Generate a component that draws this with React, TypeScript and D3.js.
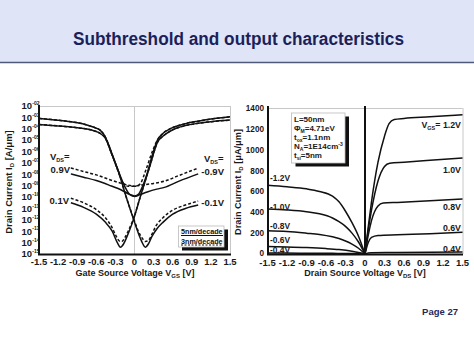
import React from 'react';
import * as d3 from 'd3';

const W = 474;
const H = 355;

const TITLE = 'Subthreshold and output characteristics';
const PAGE = 'Page 27';

const X_TICKS = [-1.5, -1.2, -0.9, -0.6, -0.3, 0, 0.3, 0.6, 0.9, 1.2, 1.5];
const LOG_EXPONENTS = [-2, -3, -4, -5, -6, -7, -8, -9, -10, -11, -12, -13, -14, -15];
const I_TICKS = [0, 200, 400, 600, 800, 1000, 1200, 1400];

// Left chart: [V_GS (V), log10(I_D [A/um])]
const N09_3NM: [number, number][] = [
  [-1.0, -7.45], [-0.8, -7.75], [-0.6, -8.05], [-0.4, -8.45], [-0.2, -8.8], [-0.05, -9.0],
  [0.03, -9.05], [0.1, -8.75], [0.18, -7.6], [0.28, -6.0], [0.36, -5.0], [0.45, -4.4],
  [0.58, -3.95], [0.8, -3.55], [1.0, -3.33], [1.2, -3.15], [1.5, -2.95],
];
const N09_5NM: [number, number][] = [
  [-1.0, -7.96], [-0.8, -8.25], [-0.6, -8.55], [-0.4, -8.95], [-0.2, -9.4], [-0.08, -9.75],
  [0.0, -9.9], [0.07, -9.7], [0.13, -9.0], [0.2, -7.9], [0.28, -6.3], [0.36, -5.0],
  [0.45, -4.4], [0.58, -3.95], [0.8, -3.55], [1.0, -3.33], [1.2, -3.15], [1.5, -2.95],
];
const N01_3NM: [number, number][] = [
  [-1.0, -10.1], [-0.8, -10.5], [-0.6, -11.1], [-0.46, -11.8], [-0.36, -12.6], [-0.29, -13.4],
  [-0.24, -13.85], [-0.2, -13.9], [-0.15, -13.55], [-0.1, -13.0], [-0.03, -12.1], [0.09, -10.0],
  [0.24, -7.3], [0.36, -5.2], [0.47, -4.55], [0.58, -4.15], [0.8, -3.72], [1.0, -3.52],
  [1.2, -3.38], [1.5, -3.24],
];
const N01_5NM: [number, number][] = [
  [-1.0, -10.5], [-0.8, -10.9], [-0.6, -11.5], [-0.46, -12.2], [-0.35, -13.0], [-0.27, -14.0],
  [-0.22, -14.4], [-0.17, -14.1], [-0.12, -13.5], [-0.03, -12.2], [0.09, -10.0], [0.24, -7.3],
  [0.36, -5.2], [0.47, -4.55], [0.58, -4.15], [0.8, -3.72], [1.0, -3.52], [1.2, -3.38],
  [1.5, -3.24],
];
const P09_3NM: [number, number][] = [
  [-1.5, -3.09], [-1.2, -3.25], [-1.0, -3.38], [-0.8, -3.58], [-0.65, -3.85], [-0.54, -4.12],
  [-0.46, -4.7], [-0.38, -5.8], [-0.28, -7.4], [-0.18, -8.75], [-0.1, -9.05], [-0.02, -9.05],
  [0.1, -8.95], [0.3, -8.8], [0.47, -8.6], [0.7, -8.1], [1.0, -7.45],
];
const P09_5NM: [number, number][] = [
  [-1.5, -3.09], [-1.2, -3.25], [-1.0, -3.38], [-0.8, -3.58], [-0.65, -3.85], [-0.54, -4.12],
  [-0.46, -4.7], [-0.38, -5.8], [-0.3, -7.0], [-0.22, -8.2], [-0.15, -9.1], [-0.08, -9.75],
  [0.0, -9.95], [0.08, -9.8], [0.2, -9.55], [0.35, -9.3], [0.47, -9.15], [0.7, -8.6], [1.0, -7.96],
];
const P01_3NM: [number, number][] = [
  [-1.5, -3.62], [-1.2, -3.75], [-1.0, -3.85], [-0.8, -3.98], [-0.65, -4.15], [-0.54, -4.4],
  [-0.45, -4.9], [-0.36, -6.2], [-0.25, -7.8], [-0.13, -10.0], [0.0, -12.1], [0.06, -13.0],
  [0.12, -13.6], [0.17, -13.9], [0.22, -13.8], [0.27, -13.3], [0.33, -12.6], [0.45, -11.8],
  [0.6, -11.15], [0.8, -10.7], [1.0, -10.35],
];
const P01_5NM: [number, number][] = [
  [-1.5, -3.62], [-1.2, -3.75], [-1.0, -3.85], [-0.8, -3.98], [-0.65, -4.15], [-0.54, -4.4],
  [-0.45, -4.9], [-0.36, -6.2], [-0.25, -7.8], [-0.13, -10.0], [0.0, -12.2], [0.09, -13.6],
  [0.13, -14.1], [0.17, -14.4], [0.22, -14.1], [0.27, -13.5], [0.35, -12.8], [0.45, -12.2],
  [0.6, -11.5], [0.8, -11.0], [1.0, -10.7],
];

const LEFT_SERIES = [
  { data: N09_5NM, dashed: false },
  { data: N01_5NM, dashed: false },
  { data: P09_5NM, dashed: false },
  { data: P01_5NM, dashed: false },
  { data: N09_3NM, dashed: true },
  { data: N01_3NM, dashed: true },
  { data: P09_3NM, dashed: true },
  { data: P01_3NM, dashed: true },
];

// Right chart: [V_DS (V), |I_D| (uA/um)]
const VGS_N = ['1.2V', '1.0V', '0.8V', '0.6V', '0.4V'];
const VGS_P = ['-1.2V', '-1.0V', '-0.8V', '-0.6V', '-0.4V'];
const N_LABEL_I = [1240, 805, 453, 252, 48];
const P_LABEL_I = [726, 453, 268, 137, 43];

const ID_N12: [number, number][] = [
  [0, 0], [0.05, 260], [0.1, 500], [0.2, 880], [0.3, 1130], [0.37, 1250], [0.45, 1290],
  [0.6, 1300], [1.0, 1315], [1.5, 1335],
];
const ID_N10: [number, number][] = [
  [0, 0], [0.05, 230], [0.1, 420], [0.2, 700], [0.3, 840], [0.38, 870], [0.6, 880],
  [1.0, 898], [1.5, 920],
];
const ID_N08: [number, number][] = [
  [0, 0], [0.05, 180], [0.1, 320], [0.2, 460], [0.28, 488], [0.5, 495], [1.0, 510], [1.5, 528],
];
const ID_N06: [number, number][] = [
  [0, 0], [0.05, 110], [0.1, 160], [0.2, 178], [0.5, 185], [1.0, 195], [1.5, 208],
];
const ID_N04: [number, number][] = [[0, 0], [0.05, 10], [0.1, 13], [0.5, 15], [1.5, 20]];

const ID_P12: [number, number][] = [
  [-1.5, 660], [-1.2, 645], [-0.9, 625], [-0.7, 600], [-0.5, 555], [-0.4, 500], [-0.3, 410],
  [-0.2, 300], [-0.1, 170], [0, 0],
];
const ID_P10: [number, number][] = [
  [-1.5, 432], [-1.2, 422], [-0.9, 405], [-0.7, 385], [-0.5, 345], [-0.4, 310], [-0.3, 265],
  [-0.2, 200], [-0.1, 115], [0, 0],
];
const ID_P08: [number, number][] = [
  [-1.5, 222], [-1.2, 215], [-0.9, 200], [-0.7, 188], [-0.5, 165], [-0.4, 148], [-0.3, 125],
  [-0.2, 95], [-0.1, 55], [0, 0],
];
const ID_P06: [number, number][] = [
  [-1.5, 72], [-1.2, 68], [-0.9, 62], [-0.6, 52], [-0.4, 42], [-0.2, 26], [-0.1, 15], [0, 0],
];
const ID_P04: [number, number][] = [[-1.5, 9], [-1.0, 8], [-0.5, 6], [-0.2, 4], [0, 0]];

const N_CURVES = [ID_N12, ID_N10, ID_N08, ID_N06, ID_N04];
const P_CURVES = [ID_P12, ID_P10, ID_P08, ID_P06, ID_P04];

const INFO_LINES = [
  { main: 'L=50nm', sub: '', rest: '', sup: '' },
  { main: 'Φ', sub: 'M', rest: '=4.71eV', sup: '' },
  { main: 't', sub: 'ox', rest: '=1.1nm', sup: '' },
  { main: 'N', sub: 'A', rest: '=1E14cm', sup: '-3' },
  { main: 't', sub: 'si', rest: '=5nm', sup: '' },
];

const FONT = '"Liberation Sans", Arial, Helvetica, sans-serif';
const TXT = '#1a1a1a';

const fmtX = (v: number) => (v === 0 ? '0' : v.toFixed(1));
const pad2 = (n: number) => (Math.abs(n) < 10 ? '-0' + Math.abs(n) : String(n));

export default function App() {
  const xL = d3.scaleLinear().domain([-1.5, 1.5]).range([39, 230]);
  const yL = d3.scaleLog().domain([1e-15, 1e-2]).range([254, 106]);
  const lineL = d3
    .line<[number, number]>()
    .x((d) => xL(d[0]))
    .y((d) => yL(Math.pow(10, d[1])))
    .curve(d3.curveMonotoneX);

  const xR = d3.scaleLinear().domain([-1.5, 1.5]).range([267.5, 462.5]);
  const yR = d3.scaleLinear().domain([0, 1400]).range([254, 108]);
  const lineR = d3
    .line<[number, number]>()
    .x((d) => xR(d[0]))
    .y((d) => yR(d[1]))
    .curve(d3.curveMonotoneX);

  return (
    <svg
      width={W}
      height={H}
      viewBox={`0 0 ${W} ${H}`}
      style={{ position: 'absolute', left: 0, top: 0, background: '#fff' }}
      fontFamily={FONT}
    >
      <rect x={0} y={0} width={W} height={H} fill="#fff" />
      <rect x={0} y={0} width={W} height={62} fill="#dfe5f7" />
      <line x1={0} x2={W} y1={62.5} y2={62.5} stroke="#4e5a78" strokeWidth={1.5} />
      <text
        x={238.5}
        y={45}
        textAnchor="middle"
        fontFamily='"Liberation Sans Narrow", "Liberation Sans", Arial, sans-serif'
        fontWeight="bold"
        fontSize={18}
        fill="#1b1f5a"
        textLength={331}
        lengthAdjust="spacingAndGlyphs"
      >
        {TITLE}
      </text>
      <text x={458} y={315} textAnchor="end" fontWeight="bold" fontSize={9.5} fill="#1f2a5c">
        {PAGE}
      </text>

      {/* ===== LEFT CHART ===== */}
      <g>
        <line x1={xL(-1.5)} x2={xL(1.5)} y1={106.5} y2={106.5} stroke="#c8c8c8" strokeWidth={1} />
        <line x1={230.5} x2={230.5} y1={106} y2={254} stroke="#c8c8c8" strokeWidth={1} />
        <line x1={xL(0)} x2={xL(0)} y1={106} y2={254} stroke="#c8c8c8" strokeWidth={1} />
        {LEFT_SERIES.map((s, i) => (
          <path
            key={i}
            d={lineL(s.data) || ''}
            fill="none"
            stroke="#111"
            strokeWidth={1.5}
            strokeDasharray={s.dashed ? '3,2' : undefined}
          />
        ))}
        <line x1={39} x2={39} y1={105} y2={255} stroke="#111" strokeWidth={2} />
        <line x1={38} x2={231} y1={254.5} y2={254.5} stroke="#111" strokeWidth={2} />
        {LOG_EXPONENTS.map((e) => (
          <g key={e}>
            <text x={32} y={yL(Math.pow(10, e)) + 3.3} textAnchor="end" fontSize={9.5} fontWeight="bold" fill={TXT}>
              10
            </text>
            <text x={32.3} y={yL(Math.pow(10, e)) - 0.8} fontSize={5} fontWeight="bold" fill={TXT}>
              {pad2(e)}
            </text>
          </g>
        ))}
        {X_TICKS.map((t) => (
          <text key={t} x={xL(t)} y={265} textAnchor="middle" fontSize={9.5} fontWeight="bold" fill={TXT}>
            {fmtX(t)}
          </text>
        ))}
        <text x={135} y={276} textAnchor="middle" fontSize={9} fontWeight="bold" fill={TXT}>
          <tspan>Gate Source Voltage V</tspan>
          <tspan fontSize={6} dy={2}>GS</tspan>
          <tspan dy={-2}> [V]</tspan>
        </text>
        <text
          transform={`translate(12,182) rotate(-90)`}
          textAnchor="middle"
          fontSize={9.5}
          fontWeight="bold"
          fill={TXT}
        >
          <tspan>Drain Current I</tspan>
          <tspan fontSize={6} dy={2}>D</tspan>
          <tspan dy={-2}> [A/μm]</tspan>
        </text>
        <text x={50} y={160} fontSize={9.5} fontWeight="bold" fill={TXT}>
          <tspan>V</tspan>
          <tspan fontSize={5.5} dy={2}>DS</tspan>
          <tspan dy={-2}>=</tspan>
        </text>
        <text x={70} y={173} textAnchor="end" fontSize={9.5} fontWeight="bold" fill={TXT}>0.9V</text>
        <text x={69} y={204} textAnchor="end" fontSize={9.5} fontWeight="bold" fill={TXT}>0.1V</text>
        <text x={204} y={162} fontSize={9.5} fontWeight="bold" fill={TXT}>
          <tspan>V</tspan>
          <tspan fontSize={5.5} dy={2}>DS</tspan>
          <tspan dy={-2}>=</tspan>
        </text>
        <text x={224} y={175} textAnchor="end" fontSize={9.5} fontWeight="bold" fill={TXT}>-0.9V</text>
        <text x={224} y={206} textAnchor="end" fontSize={9.5} fontWeight="bold" fill={TXT}>-0.1V</text>
        {/* legend */}
        <rect x={182} y={229.5} width={46} height={21} fill="#111" />
        <rect x={178.5} y={226} width={45.5} height={21} fill="#fff" stroke="#bbb" strokeWidth={0.8} />
        <text x={181} y={233.5} fontSize={7.2} fontWeight="bold" fill="#111">5nm/decade</text>
        <line x1={181} x2={223} y1={235.5} y2={235.5} stroke="#111" strokeWidth={1.2} />
        <text x={181} y={243.5} fontSize={7.2} fontWeight="bold" fill="#111">3nm/decade</text>
        <line x1={181} x2={223} y1={245} y2={245} stroke="#111" strokeWidth={1.2} strokeDasharray="2,1.5" />
      </g>

      {/* ===== RIGHT CHART ===== */}
      <g>
        <line x1={xR(-1.5)} x2={xR(1.5)} y1={108.5} y2={108.5} stroke="#c8c8c8" strokeWidth={1} />
        <line x1={463} x2={463} y1={108} y2={254} stroke="#c8c8c8" strokeWidth={1} />
        {N_CURVES.map((c, i) => (
          <path key={'n' + i} d={lineR(c) || ''} fill="none" stroke="#111" strokeWidth={1.5} />
        ))}
        {P_CURVES.map((c, i) => (
          <path key={'p' + i} d={lineR(c) || ''} fill="none" stroke="#111" strokeWidth={1.5} />
        ))}
        <line x1={xR(0)} x2={xR(0)} y1={106} y2={254} stroke="#111" strokeWidth={2} />
        <line x1={268} x2={268} y1={106} y2={255} stroke="#111" strokeWidth={2} />
        <line x1={267} x2={463} y1={254.5} y2={254.5} stroke="#111" strokeWidth={2} />
        {I_TICKS.map((t) => (
          <text key={t} x={264} y={yR(t) + (t === 0 ? 2 : 3)} textAnchor="end" fontSize={8.2} fontWeight="bold" fill={TXT}>
            {t}
          </text>
        ))}
        {X_TICKS.map((t) => (
          <text key={t} x={xR(t)} y={265.5} textAnchor="middle" fontSize={9.5} fontWeight="bold" fill={TXT}>
            {fmtX(t)}
          </text>
        ))}
        <text x={365} y={276} textAnchor="middle" fontSize={9} fontWeight="bold" fill={TXT}>
          <tspan>Drain  Source Voltage V</tspan>
          <tspan fontSize={6} dy={2}>DS</tspan>
          <tspan dy={-2}> [V]</tspan>
        </text>
        <text
          transform={`translate(241,182) rotate(-90)`}
          textAnchor="middle"
          fontSize={9.2}
          fontWeight="bold"
          fill={TXT}
        >
          <tspan>Drain Current I</tspan>
          <tspan fontSize={6} dy={2}>D</tspan>
          <tspan dy={-2}> [μA/μm]</tspan>
        </text>
        {VGS_N.map((l, i) =>
          i === 0 ? (
            <text key={l} x={461} y={yR(N_LABEL_I[i]) + 3} textAnchor="end" fontSize={8.8} fontWeight="bold" fill={TXT}>
              <tspan>V</tspan>
              <tspan fontSize={5.5} dy={2}>GS</tspan>
              <tspan dy={-2}>= {l}</tspan>
            </text>
          ) : (
            <text key={l} x={461} y={yR(N_LABEL_I[i]) + 3} textAnchor="end" fontSize={8.8} fontWeight="bold" fill={TXT}>
              {l}
            </text>
          )
        )}
        {VGS_P.map((l, i) => (
          <text key={l} x={270} y={yR(P_LABEL_I[i]) + 3} fontSize={8.4} fontWeight="bold" fill={TXT}>
            {l}
          </text>
        ))}
        {/* info box */}
        <rect x={295.5} y={116.5} width={53.5} height={50} fill="#111" />
        <rect x={291.5} y={113} width={53.5} height={50} fill="#fff" stroke="#bbb" strokeWidth={0.8} />
        {INFO_LINES.map((ln, i) => (
          <text key={i} x={294} y={122 + i * 9} fontSize={8} fontWeight="bold" fill={TXT}>
            <tspan>{ln.main}</tspan>
            {ln.sub ? (
              <tspan fontSize={5} dy={2}>
                {ln.sub}
              </tspan>
            ) : null}
            {ln.rest ? <tspan dy={ln.sub ? -2 : 0}>{ln.rest}</tspan> : null}
            {ln.sup ? (
              <tspan fontSize={5} dy={-3}>
                {ln.sup}
              </tspan>
            ) : null}
          </text>
        ))}
      </g>
    </svg>
  );
}
